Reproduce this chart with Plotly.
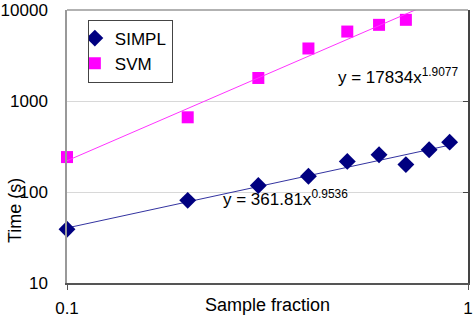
import numpy as np
import plotly.graph_objects as go

# Data
simpl_x = [0.1, 0.2, 0.3, 0.4, 0.5, 0.6, 0.7, 0.8, 0.9]
simpl_t = [39, 81, 118, 149, 217, 257, 200, 291, 353]
svm_x = [0.1, 0.2, 0.3, 0.4, 0.5, 0.6, 0.7]
svm_t = [242, 662, 1791, 3777, 5797, 6870, 7800]

# Power-law trendlines shown in the chart: y = a * x^b
simpl_a, simpl_b = 361.81, 0.9536
svm_a, svm_b = 17834, 1.9077
simpl_trend_x = [0.1, 0.9]
svm_trend_x = [0.1, 0.8]

y_ticks = [10, 100, 1000, 10000]
x_ticks = [0.1, 1]

FONT = "Liberation Sans, Arial, sans-serif"
YR = [0.99999, 4.00001]

fig = go.Figure()

fig.add_trace(go.Scatter(
    x=simpl_trend_x, y=[simpl_a * v ** simpl_b for v in simpl_trend_x],
    mode="lines", line=dict(color="#3333a0", width=1), showlegend=False,
    hoverinfo="skip"))
fig.add_trace(go.Scatter(
    x=svm_trend_x, y=[svm_a * v ** svm_b for v in svm_trend_x],
    mode="lines", line=dict(color="#ff33ff", width=1), showlegend=False,
    hoverinfo="skip", yaxis="y2"))
fig.add_trace(go.Scatter(
    x=simpl_x, y=simpl_t, mode="markers", name="SIMPL",
    marker=dict(symbol="diamond", color="#000080", size=13),
    cliponaxis=False))
fig.add_trace(go.Scatter(
    x=svm_x, y=svm_t, mode="markers", name="SVM",
    marker=dict(symbol="square", color="#ff00ff", size=12),
    cliponaxis=False))

fig.update_layout(
    width=474, height=320,
    margin=dict(l=67, r=6, t=10, b=37),
    paper_bgcolor="white", plot_bgcolor="white",
    font=dict(family=FONT, size=17, color="black"),
    showlegend=True,
    legend=dict(
        x=0.052, y=0.965, xanchor="left", yanchor="top",
        bgcolor="white", bordercolor="#444", borderwidth=1,
        font=dict(size=17), itemwidth=30, tracegroupgap=0,
        indentation=-14,
    ),
    xaxis=dict(
        type="log", range=[-1, 0], tickvals=x_ticks, ticktext=["0.1", "1"],
        showgrid=False, zeroline=False, showline=True, linecolor="#555",
        linewidth=1.5, ticks="outside", ticklen=5, tickcolor="#555",
        tickfont=dict(size=17), ticklabelstandoff=4, automargin=False,
        ticklabeloverflow="allow",
    ),
    yaxis=dict(
        type="log", range=YR, tickvals=y_ticks,
        ticktext=[str(v) for v in y_ticks],
        showgrid=True, gridcolor="#d8d8d8", gridwidth=1, zeroline=False,
        showline=True, linecolor="#999", linewidth=1.5, ticks="",
        tickfont=dict(size=17), ticklabelstandoff=14, automargin=False,
        ticklabeloverflow="allow",
    ),
    yaxis2=dict(
        type="log", range=YR, tickvals=y_ticks, overlaying="y",
        side="right", showticklabels=False, showgrid=False, zeroline=False,
        showline=True, linecolor="#444", linewidth=1.5, ticks="inside",
        ticklen=5, tickcolor="#444", automargin=False,
    ),
)

# top frame line
fig.add_shape(type="line", xref="paper", yref="paper", x0=0, x1=1, y0=1, y1=1,
              line=dict(color="#999", width=1.5))

fig.add_annotation(text="Sample fraction", xref="paper", yref="paper",
                   x=0.5, y=0.0, yshift=-22, xanchor="center", yanchor="middle",
                   showarrow=False, font=dict(size=18))
fig.add_annotation(text="Time (s)", xref="paper", yref="paper",
                   x=0, xshift=-52, y=0.3, yshift=-10, textangle=-90,
                   xanchor="center", yanchor="middle",
                   showarrow=False, font=dict(size=18))
fig.add_annotation(text="y = 17834x<sup>1.9077</sup>", xref="paper", yref="paper",
                   x=0.98, y=0.76, xanchor="right", yanchor="middle",
                   showarrow=False, font=dict(size=17))
fig.add_annotation(text="y = 361.81x<sup>0.9536</sup>", xref="paper", yref="paper",
                   x=0.385, y=0.31, xanchor="left", yanchor="middle",
                   showarrow=False, font=dict(size=17))

fig.write_html("out.html")
